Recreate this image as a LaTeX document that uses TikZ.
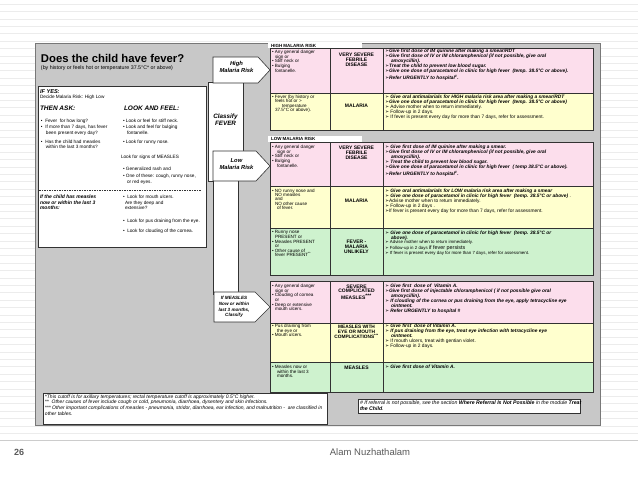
\documentclass[tikz,border=0pt]{standalone}
\usepackage{fontspec}
\setmainfont{Liberation Sans}
\newfontfamily\symf{DejaVu Sans}
\newcommand\ab{{\symf ➢}}
\newcommand\bi[1]{\textbf{\textit{#1}}}
\definecolor{panel}{RGB}{200,200,200}
\definecolor{panelB}{RGB}{120,120,120}
\definecolor{lineC}{RGB}{50,50,50}
\definecolor{pinkC}{RGB}{252,222,236}
\definecolor{yellC}{RGB}{255,255,206}
\definecolor{greenC}{RGB}{206,242,206}
\definecolor{paperL}{RGB}{236,236,236}
\definecolor{footC}{RGB}{90,90,90}
\begin{document}
\begin{tikzpicture}[x=1pt,y=-1pt,
  every node/.style={inner sep=0pt,outer sep=0pt},
  tl/.style={anchor=north west,align=left,font=\fontsize{4.6}{4.6}\selectfont},
  tr/.style={anchor=north west,align=left,font=\fontsize{4.85}{5}\selectfont},
  tcap/.style={anchor=north,align=center,font=\bfseries\fontsize{5}{5}\selectfont},
  lt/.style={anchor=north west,align=left,font=\fontsize{4.7}{5.5}\selectfont},
  hd/.style={anchor=west,font=\bfseries\itshape\fontsize{6.5}{6.5}\selectfont},
  cell/.style={draw=lineC,line width=0.5pt},
  penta/.style={fill=white,draw=lineC,line width=0.6pt},
  lab/.style={anchor=west,font=\bfseries\fontsize{4.5}{4.5}\selectfont},
  arrtxt/.style={align=center,font=\bfseries\itshape\fontsize{5.8}{6.4}\selectfont}]
\useasboundingbox (0,0) rectangle (638,478);
\fill[white] (0,0) rectangle (638,478);
\foreach \k in {0,...,58} \draw[paperL,line width=0.4pt] (0,4+7.4*\k) -- (638,4+7.4*\k);
\draw[gray!40,line width=0.5pt] (0,440) -- (638,440);
% main panel
\path[fill=panel,draw=panelB,line width=0.5pt] (35,43) rectangle (600,425);
% left white box
\path[fill=white,draw=lineC,line width=0.5pt] (38,86) rectangle (206,247);
% title
\node[anchor=west,font=\bfseries\fontsize{11.3}{12}\selectfont] (title) at (41,58.5) {Does the child have fever?};
\node[anchor=west,font=\fontsize{5.3}{5.5}\selectfont] (sub) at (41,68) {(by history or feels hot or temperature 37.5°C* or above)};
% white column and arrows
\path[fill=white,draw=lineC,line width=0.5pt] (208,82) -- (243,82) -- (243,152) -- (238,152) -- (238,294) -- (213,294) -- (213,181) -- (208,181) -- cycle;
\path[penta] (213,57) -- (258,57) -- (270,70) -- (258,83) -- (213,83) -- cycle;
\path[penta] (213,151) -- (256,151) -- (270,166) -- (256,181) -- (213,181) -- cycle;
\path[penta] (214,292) -- (255,292) -- (270,307) -- (255,322) -- (214,322) -- cycle;
\node[arrtxt] (hmr) at (236.5,67) {High\\Malaria Risk};
\node[arrtxt] (lmr) at (236.5,164) {Low\\Malaria Risk};
\node[arrtxt,font=\bfseries\itshape\fontsize{6.3}{7}\selectfont] (clf) at (225.5,119.5) {Classify\\FEVER};
\node[arrtxt,font=\bfseries\itshape\fontsize{4.6}{5.7}\selectfont] (ifm) at (234,307) {If MEASLES\\Now or within\\last 3 months,\\Classify};
% left box content
\node[anchor=west,font=\bfseries\itshape\fontsize{5.6}{5}\selectfont] (ifyes) at (40,92) {IF YES:};
\node[anchor=west,font=\fontsize{4.7}{5}\selectfont] (decide) at (40,97.5) {Decide Malaria Risk: High Low};
\node[hd] (then) at (40,108.5) {THEN ASK:};
\node[hd] (look) at (124,108.5) {LOOK AND FEEL:};
\node[lt] (a1) at (41,119) {•\ \ Fever\ \ for how long?};
\node[lt] (a2) at (41,125.5) {•\ \ If more than 7 days, has fever\\\hspace*{5pt}been present every day?};
\node[lt] (a3) at (41,140) {•\ \ Has the child had measles\\\hspace*{5pt}within the last 3 months?};
\node[lt] (b1) at (123,119) {• Look or feel for stiff neck.};
\node[lt] (b2) at (123,125.5) {• Look and feel for bulging\\\hspace*{4pt}fontanelle.};
\node[lt] (b3) at (123,140) {• Look for runny nose.};
\node[lt] (b4) at (121,155.5) {Look for signs of MEASLES};
\node[lt] (b5) at (123,167.5) {• Generalized rash and};
\node[lt] (b6) at (123,174.5) {• One of these: cough, runny nose,\\\hspace*{4pt}or red eyes.};
\draw[lineC,dashed,line width=0.4pt,dash pattern=on 1.5pt off 1pt] (39,190.5) -- (201,190.5);
\node[anchor=north west,align=left,font=\bfseries\itshape\fontsize{5}{5.4}\selectfont] (ifch) at (40,195.2) {If the child has measles\\now or within the last 3\\months:};
\node[lt,font=\fontsize{4.7}{5.5}\selectfont] (c1) at (123,195.5) {•\ \ Look for mouth ulcers.\\\hspace*{2pt}Are they deep and\\\hspace*{2pt}extensive?};
\node[lt] (c2) at (123,219) {•\ \ Look for pus draining from the eye.};
\node[lt] (c3) at (123,229.5) {•\ \ Look for clouding of the cornea.};
% labels
\path[fill=white] (268,42.5) rectangle (362,48.5);
\node[lab] (lh) at (271,45.6) {HIGH MALARIA RISK};
\path[fill=white] (268,136.2) rectangle (362,142.3);
\node[lab] (ll) at (271,139.3) {LOW MALARIA RISK};
% table 1
\fill[pinkC] (270,48.5) rectangle (593,93);
\fill[yellC] (270,93) rectangle (593,130);
\draw[cell] (270,48.5) rectangle (593,130);
\draw[cell] (270,93) -- (593,93);
\draw[cell] (330,48.5) -- (330,130) (383,48.5) -- (383,130);
% table 2
\fill[pinkC] (270,142.5) rectangle (593,186);
\fill[yellC] (270,186) rectangle (593,228);
\fill[greenC] (270,228) rectangle (593,275);
\draw[cell] (270,142.5) rectangle (593,275);
\draw[cell] (270,186) -- (593,186) (270,228) -- (593,228);
\draw[cell] (330,142.5) -- (330,275) (383,142.5) -- (383,275);
% table 3
\fill[pinkC] (270,281.5) rectangle (593,323);
\fill[yellC] (270,323) rectangle (593,362);
\fill[greenC] (270,362) rectangle (593,392);
\draw[cell] (270,281.5) rectangle (593,392);
\draw[cell] (270,323) -- (593,323) (270,362) -- (593,362);
\draw[cell] (330,281.5) -- (330,392) (383,281.5) -- (383,392);
% table 1 text
\node[tl] (t1a) at (272,50.4) {• Any general danger\\\hspace*{3pt}sign or\\• Stiff neck or\\• Bulging\\\hspace*{3pt}fontanelle.};
\node[tcap] (t1b) at (356.5,53) {VERY SEVERE\\FEBRILE\\DISEASE};
\node[tr] (t1c) at (385,49.4) {\ab\bi{Give first dose of IM quinine after making a smear/RDT}\\
\ab\bi{Give first dose of IV or IM chloramphenicol (if not possible, give oral}\\
\hspace*{6pt}\bi{amoxycillin).}\\
\ab\bi{Treat the child to prevent low blood sugar.}\\
\ab\bi{Give one dose of paracetamol in clinic for high fever\ \ (temp. 38.5°C or above).}\\
\ab\bi{Refer URGENTLY to hospital\textsuperscript{\#}.}};
\node[tl] (t2a) at (272,94.8) {• Fever (by history or\\\hspace*{3pt}feels hot or >\\\hspace*{10pt}temperature\\\hspace*{3pt}37.5°C or above).};
\node[tcap] (t2b) at (356.5,104.5) {MALARIA};
\node[tr] (t2c) at (385,94.8) {\ab\ \bi{Give oral antimalarials for HIGH malaria risk area after making a smear/RDT}\\
\ab\bi{Give one dose of paracetamol in clinic for high fever\ \ (temp. 38.5°C or above)}\\
\ab\ Advise mother when to return immediately.\\
\ab\ Follow-up in 2 days.\\
\ab\ If fever is present every day for more than 7 days, refer for assessment.};
% table 2 text
\node[tl] (t3a) at (272,145.4) {• Any general danger\\\hspace*{5pt}sign or\\• Stiff neck or\\• Bulging\\\hspace*{5pt}fontanelle.};
\node[tcap] (t3b) at (356.5,146.3) {VERY SEVERE\\FEBRILE\\DISEASE};
\node[tr] (t3c) at (385,145.4) {\ab\ \bi{Give first dose of IM quinine after making a smear.}\\
\ab\bi{Give first dose of IV or IM chloramphenicol (if not possible, give oral}\\
\hspace*{6pt}\bi{amoxycillin).}\\
\ab\ \bi{Treat the child to prevent low blood sugar.}\\
\ab\bi{Give one dose of paracetamol in clinic for high fever\ \ ( temp 38.5°C or above).}\\
\ab\bi{Refer URGENTLY to hospital\textsuperscript{\#}.}};
\node[tl,font=\fontsize{4.6}{4.3}\selectfont] (t4a) at (272,188.8) {• NO runny nose and\\\hspace*{3pt}NO measles\\\hspace*{3pt}and\\\hspace*{3pt}NO other cause\\\hspace*{5pt}of fever.};
\node[tcap] (t4b) at (356.5,199.2) {MALARIA};
\node[tr] (t4c) at (385,188.8) {\ab\ \bi{Give oral antimalarials for LOW malaria risk area after making a smear}\\
\ab\ \bi{Give one dose of paracetamol in clinic for high fever\ \ (temp. 38.5°C or above)} .\\
\ab Advise mother when to return immediately.\\
\ab\ Follow-up in 2 days .\\
\ab If fever is present every day for more than 7 days, refer for assessment.};
\node[tl] (t5a) at (272,230.8) {• Runny nose\\\hspace*{3pt}PRESENT or\\• Measles PRESENT\\\hspace*{3pt}or\\• Other cause of\\\hspace*{3pt}fever PRESENT\textsuperscript{**}};
\node[tcap] (t5b) at (356.5,240) {FEVER -\\MALARIA\\UNLIKELY};
\node[tr,font=\fontsize{4.4}{4.75}\selectfont] (t5c) at (385,230.8) {\fontsize{4.85}{4.75}\selectfont\ab\ \bi{Give one dose of paracetamol in clinic for high fever\ \ (temp. 38.5°C or}\\
\hspace*{6pt}{\fontsize{4.85}{4.75}\selectfont\bi{above).}}\\
\ab\ Advise mother when to return immediately.\\
\ab\ Follow-up in 2 days {\fontsize{5.4}{4.75}\selectfont if fever persists}\\
\ab\ If fever is present every day for more than 7 days, refer for assessment.};
% table 3 text
\node[tl] (t6a) at (272,284.4) {• Any general danger\\\hspace*{3pt}sign or\\• Clouding of cornea\\\hspace*{3pt}or\\• Deep or extensive\\\hspace*{3pt}mouth ulcers.};
\node[tcap,font=\bfseries\fontsize{5}{4.6}\selectfont] (t6b) at (356.5,284.7) {SEVERE\\COMPLICATED\\MEASLES\textsuperscript{***}};
\node[tr] (t6c) at (385,284.4) {\ab\ \bi{Give first\ \ dose of\ \ Vitamin A.}\\
\ab\bi{Give first dose of injectable chloramphenicol ( if not possible give oral}\\
\hspace*{6pt}\bi{amoxycillin).}\\
\ab\ \bi{If clouding of the cornea or pus draining from the eye, apply tetracycline eye}\\
\hspace*{6pt}\bi{ointment.}\\
\ab\ \bi{Refer URGENTLY to hospital \#}};
\node[tl] (t7a) at (272,324.4) {• Pus draining from\\\hspace*{5pt}the eye or\\• Mouth ulcers.};
\node[tcap,font=\bfseries\fontsize{4.8}{5}\selectfont] (t7b) at (356.5,324.7) {MEASLES WITH\\EYE OR MOUTH\\COMPLICATIONS\textsuperscript{***}};
\node[tr] (t7c) at (385,324.4) {\ab\ \bi{Give first\ \ dose of Vitamin A.}\\
\ab\ \bi{If pus draining from the eye, treat eye infection with tetracycline eye}\\
\hspace*{6pt}\bi{ointment.}\\
\ab\ If mouth ulcers, treat with gentian violet.\\
\ab\ Follow-up in 2 days.};
\node[tl] (t8a) at (272,365.4) {• Measles now or\\\hspace*{5pt}within the last 3\\\hspace*{5pt}months.};
\node[tcap] (t8b) at (356.5,365.8) {MEASLES};
\node[tr] (t8c) at (385,365.4) {\ab\ \bi{Give first dose of Vitamin A.}};
% footnotes
\path[fill=white,draw=lineC,line width=0.5pt] (43,393.5) rectangle (327,424.5);
\node[anchor=north west,align=left,font=\itshape\fontsize{5}{5.6}\selectfont] (fn) at (45,394.6) {*This cutoff is for axillary temperatures; rectal temperature cutoff is approximately 0.5°C higher.\\
**\ \ Other causes of fever include cough or cold, pneumonia, diarrhoea, dysentery and skin infections.\\
*** Other important complications of measles - pneumonia, stridor, diarrhoea, ear infection, and malnutrition -\ \ are classified in\\
other tables.};
\path[fill=white,draw=lineC,line width=0.5pt] (358,399.5) rectangle (580,413.5);
\node[anchor=north west,align=left,font=\itshape\fontsize{5.2}{5.6}\selectfont] (ref) at (360,400.8) {\# If referral is not possible, see the section \textbf{Where Referral Is Not Possible} in the module \textbf{Treat}\\\textbf{the Child}.};
% slide footer
\node[anchor=west,font=\bfseries\fontsize{9}{9}\selectfont,text=footC] (pg) at (14,452) {26};
\node[font=\fontsize{9.5}{10}\selectfont,text=footC] (auth) at (370,452) {Alam Nuzhathalam};
\end{tikzpicture}
\end{document}
